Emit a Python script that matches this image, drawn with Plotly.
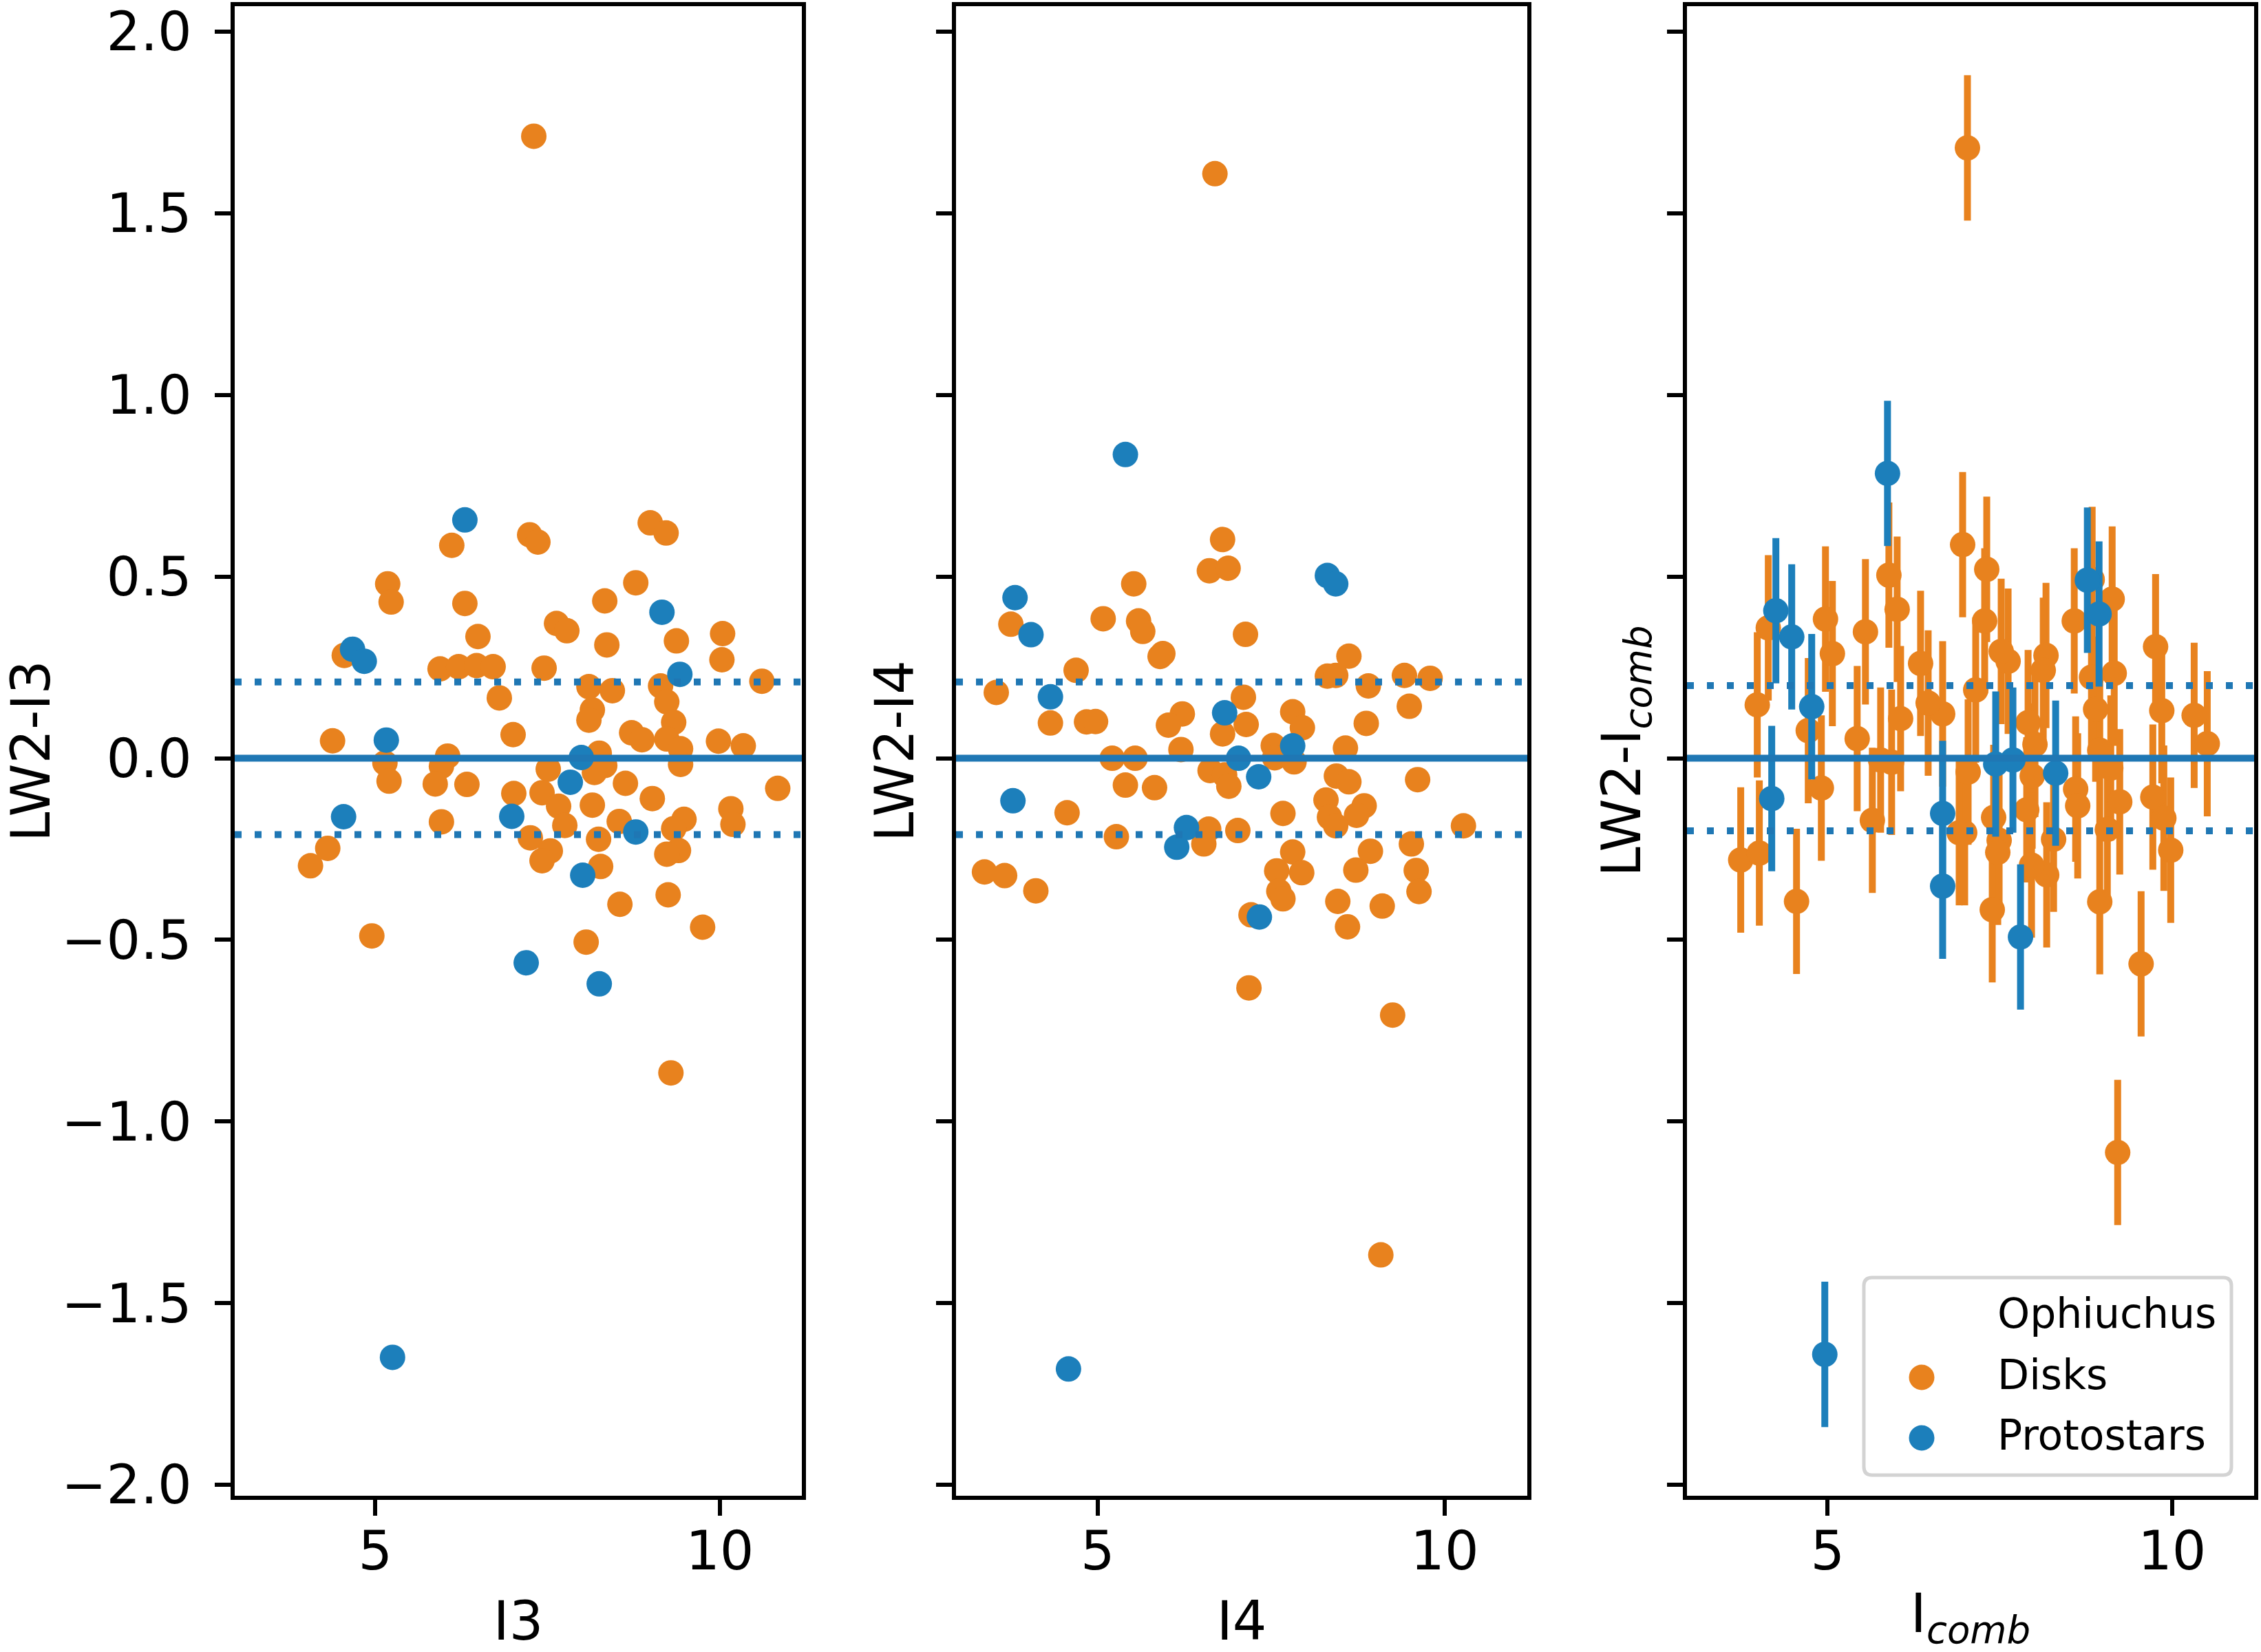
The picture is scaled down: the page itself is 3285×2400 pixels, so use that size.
import plotly.graph_objects as go

# ---------------- data ----------------
# Panel 1: LW2-I3 vs I3
I3_DISK_X = [6.11, 7.24, 7.36, 8.99, 9.22, 5.18, 5.23, 6.30, 8.78, 8.33, 7.63, 7.78, 6.49, 8.36, 9.37, 10.04,
             4.55, 5.94, 6.21, 6.47, 6.71, 7.45, 10.03, 10.61, 8.10, 8.44, 9.14, 6.80, 9.23, 8.15, 8.10, 9.33,
             7.00, 8.72, 8.87, 9.23, 9.43, 9.98, 10.34, 4.38, 8.25, 6.05, 5.14, 5.96, 9.43, 8.33, 7.51, 8.18,
             5.20, 5.87, 6.33, 8.63, 10.84, 7.01, 7.42, 9.02, 7.66, 8.15, 10.16, 10.19, 5.96, 7.75, 8.54, 9.48,
             9.33, 7.25, 8.24, 4.31, 7.54, 7.42, 9.40, 9.23, 4.06, 8.27, 9.25, 8.55, 9.75, 4.95, 8.06, 7.30, 9.29]
I3_DISK_Y = [0.586, 0.615, 0.595, 0.648, 0.620, 0.480, 0.430, 0.426, 0.483, 0.433, 0.371, 0.351, 0.335, 0.312, 0.323, 0.343,
             0.283, 0.246, 0.252, 0.255, 0.252, 0.248, 0.271, 0.212, 0.197, 0.186, 0.199, 0.166, 0.155, 0.133, 0.105, 0.099,
             0.065, 0.070, 0.051, 0.053, 0.026, 0.047, 0.034, 0.048, 0.014, 0.006, -0.013, -0.022, -0.017, -0.020, -0.030, -0.039,
             -0.063, -0.071, -0.072, -0.069, -0.083, -0.097, -0.095, -0.111, -0.132, -0.129, -0.139, -0.182, -0.175, -0.185, -0.174, -0.168,
             -0.194, -0.219, -0.223, -0.248, -0.255, -0.282, -0.254, -0.264, -0.296, -0.298, -0.376, -0.402, -0.465, -0.489, -0.506, 1.712, -0.866]
I3_PROTO_X = [6.30, 9.16, 4.67, 4.84, 9.42, 5.16, 7.99, 7.83, 6.98, 4.54, 8.78, 8.01, 7.19, 8.25, 5.25]
I3_PROTO_Y = [0.656, 0.402, 0.300, 0.267, 0.231, 0.050, 0.002, -0.066, -0.160, -0.161, -0.203, -0.322, -0.563, -0.621, -1.649]

# Panel 2: LW2-I4 vs I4
I4_DISK_X = [6.80, 6.61, 6.88, 5.52, 3.75, 5.08, 5.59, 5.65, 7.13, 5.94, 5.90, 8.62, 4.69, 8.31, 8.43, 9.42,
             9.79, 8.90, 3.54, 7.10, 9.49, 7.81, 6.22, 6.02, 7.14, 8.87, 4.32, 4.84, 4.97, 7.95, 6.80, 7.53,
             6.20, 8.57, 5.21, 5.54, 7.55, 7.83, 6.62, 6.83, 8.44, 8.62, 9.61, 5.40, 5.82, 6.89, 8.29, 4.56,
             7.67, 8.84, 8.34, 8.73, 8.43, 6.60, 7.02, 10.27, 5.27, 6.53, 8.93, 9.52, 7.81, 3.37, 3.66, 7.58,
             7.94, 8.72, 9.59, 4.11, 7.61, 7.67, 9.63, 8.46, 9.10, 7.21, 8.60, 7.18, 6.69, 9.25, 9.08]
I4_DISK_Y = [0.602, 0.516, 0.523, 0.480, 0.369, 0.384, 0.378, 0.349, 0.341, 0.288, 0.280, 0.281, 0.242, 0.226, 0.228, 0.228,
             0.220, 0.199, 0.181, 0.168, 0.143, 0.128, 0.122, 0.091, 0.093, 0.096, 0.097, 0.100, 0.101, 0.084, 0.067, 0.035,
             0.024, 0.028, 0.000, 0.000, 0.001, -0.010, -0.034, -0.046, -0.049, -0.065, -0.059, -0.074, -0.081, -0.077, -0.115, -0.150,
             -0.152, -0.131, -0.162, -0.157, -0.186, -0.195, -0.199, -0.186, -0.216, -0.236, -0.256, -0.236, -0.258, -0.313, -0.323, -0.310,
             -0.315, -0.308, -0.309, -0.365, -0.366, -0.387, -0.367, -0.394, -0.407, -0.431, -0.464, -0.632, 1.609, -0.707, -1.367]
I4_PROTO_X = [5.40, 8.31, 8.43, 3.81, 4.04, 4.32, 6.83, 7.81, 7.03, 7.32, 3.78, 6.28, 6.14, 7.33, 4.58]
I4_PROTO_Y = [0.836, 0.503, 0.480, 0.442, 0.340, 0.169, 0.125, 0.034, 0.000, -0.051, -0.117, -0.191, -0.245, -0.437, -1.681]

# Panel 3: LW2-Icomb vs Icomb (with error bars)
IC_DISK_X = [6.96, 7.31, 5.89, 8.84, 6.01, 4.14, 4.97, 5.07, 5.55, 7.28, 8.58, 9.13, 6.35, 7.62, 8.17, 8.13,
             9.76, 9.16, 8.83, 7.15, 3.98, 6.06, 6.67, 8.89, 9.85, 10.32, 4.72, 5.43, 10.51, 7.91, 8.01, 5.93,
             8.95, 9.11, 7.97, 8.60, 4.91, 9.72, 9.24, 8.63, 5.65, 9.88, 7.41, 6.99, 6.91, 7.49, 8.28, 9.98,
             7.47, 3.74, 4.01, 8.18, 4.55, 7.39, 8.95, 9.55, 7.03, 9.21, 7.89, 7.96, 5.77, 6.46, 7.52, 7.04, 9.06]
IC_DISK_Y = [0.588, 0.520, 0.504, 0.492, 0.410, 0.359, 0.383, 0.288, 0.348, 0.378, 0.378, 0.438, 0.261, 0.267, 0.283, 0.242,
             0.307, 0.234, 0.223, 0.188, 0.147, 0.109, 0.122, 0.135, 0.131, 0.118, 0.076, 0.054, 0.040, 0.098, 0.038, -0.011,
             0.022, -0.027, -0.049, -0.085, -0.082, -0.107, -0.120, -0.131, -0.171, -0.165, -0.163, -0.205, -0.205, -0.226, -0.223, -0.253,
             -0.259, -0.280, -0.261, -0.321, -0.394, -0.417, -0.395, -0.566, 1.680, -1.085, -0.142, -0.294, -0.005, 0.152, 0.294, -0.038, -0.196]
IC_PROTO_X = [5.87, 8.77, 4.25, 4.48, 8.94, 4.77, 7.69, 8.31, 7.44, 4.19, 6.67, 6.67, 7.80, 4.96]
IC_PROTO_Y = [0.784, 0.490, 0.406, 0.334, 0.397, 0.142, -0.005, -0.041, -0.016, -0.111, -0.152, -0.352, -0.492, -1.641]
IC_ERR = 0.20  # symmetric uncertainty on LW2-Icomb

# reference levels
SCATTER_LEVELS = [0.21, 0.21, 0.20]  # dotted +/- lines per panel

X_TITLES = ["I3", "I4", "I<sub><i>comb</i></sub>"]
Y_TITLES = ["LW2-I3", "LW2-I4", "LW2-I<sub><i>comb</i></sub>"]
LEGEND_TITLE = "Ophiuchus"
SERIES_NAMES = ["Disks", "Protostars"]

# ---------------- styling ----------------
ORANGE = "#e8821e"
BLUE_M = "#1c7fbb"
BLUE_L = "#1f77b4"
FONT = "DejaVu Sans"
FS = 78
W, H = 3285, 2400
MS = 37

fig = go.Figure()

panels = [
    (I3_DISK_X, I3_DISK_Y, I3_PROTO_X, I3_PROTO_Y, False),
    (I4_DISK_X, I4_DISK_Y, I4_PROTO_X, I4_PROTO_Y, False),
    (IC_DISK_X, IC_DISK_Y, IC_PROTO_X, IC_PROTO_Y, True),
]

for i, (dx, dy, px_, py_, err) in enumerate(panels):
    xa = "x" if i == 0 else f"x{i+1}"
    ya = "y" if i == 0 else f"y{i+1}"
    ekw = dict(type="constant", value=IC_ERR, thickness=10, width=0) if err else None
    fig.add_trace(go.Scatter(x=dx, y=dy, mode="markers", name=SERIES_NAMES[0],
                             marker=dict(color=ORANGE, size=MS, line=dict(width=0)),
                             error_y=dict(ekw, color=ORANGE) if err else None,
                             xaxis=xa, yaxis=ya, showlegend=False))
    fig.add_trace(go.Scatter(x=px_, y=py_, mode="markers", name=SERIES_NAMES[1],
                             marker=dict(color=BLUE_M, size=MS, line=dict(width=0)),
                             error_y=dict(ekw, color=BLUE_M) if err else None,
                             xaxis=xa, yaxis=ya, showlegend=False))
    # horizontal reference lines
    for yv, dash in [(0.0, "solid"), (SCATTER_LEVELS[i], "10px,19px"), (-SCATTER_LEVELS[i], "10px,19px")]:
        fig.add_shape(type="line", xref=f"{xa} domain", yref=ya, x0=0, x1=1, y0=yv, y1=yv,
                      line=dict(color=BLUE_L, width=10, dash=dash), layer="above")

# panel geometry (pixels)
xdoms = [(341, 1165), (1389, 2219), (2451, 3275)]
ydom = [(2400 - 2173) / H, (2400 - 9) / H]
ytitle_standoff = [25, 9, 15]

axis_common = dict(showline=True, mirror=True, linecolor="black", linewidth=5.5,
                   ticks="outside", ticklen=23, tickwidth=5.5, tickcolor="black",
                   showgrid=False, zeroline=False, automargin=False,
                   tickfont=dict(family=FONT, size=FS, color="black"))

layout = dict(width=W, height=H, margin=dict(l=0, r=0, t=0, b=0, pad=0),
              paper_bgcolor="white", plot_bgcolor="white",
              font=dict(family=FONT, size=FS, color="black"), showlegend=False)

for i in range(3):
    xk = "xaxis" if i == 0 else f"xaxis{i+1}"
    yk = "yaxis" if i == 0 else f"yaxis{i+1}"
    layout[xk] = dict(axis_common, domain=[xdoms[i][0] / W, xdoms[i][1] / W],
                      range=[2.96, 11.19], tickvals=[5, 10], ticklabelstandoff=-15,
                      anchor="y" if i == 0 else f"y{i+1}",
                      title=dict(text=X_TITLES[i], font=dict(family=FONT, size=FS), standoff=59))
    layout[yk] = dict(axis_common, domain=ydom, range=[-2.03, 2.07],
                      tickvals=[-2.0, -1.5, -1.0, -0.5, 0.0, 0.5, 1.0, 1.5, 2.0],
                      tickformat=".1f", showticklabels=(i == 0), ticklabelstandoff=18,
                      anchor="x" if i == 0 else f"x{i+1}",
                      title=dict(text=Y_TITLES[i], font=dict(family=FONT, size=FS),
                                 standoff=ytitle_standoff[i]))

fig.update_layout(**layout)

# ---------------- manual legend (matches the matplotlib look) ----------------
lx0, lx1, ly0, ly1 = 2708, 3242, 1856, 2143  # pixels
r = 12
def px(xp):
    return xp / W
def py(yp):
    return 1 - yp / H
path = (f"M {px(lx0 + r)},{py(ly0)} L {px(lx1 - r)},{py(ly0)} Q {px(lx1)},{py(ly0)} {px(lx1)},{py(ly0 + r)} "
        f"L {px(lx1)},{py(ly1 - r)} Q {px(lx1)},{py(ly1)} {px(lx1 - r)},{py(ly1)} "
        f"L {px(lx0 + r)},{py(ly1)} Q {px(lx0)},{py(ly1)} {px(lx0)},{py(ly1 - r)} "
        f"L {px(lx0)},{py(ly0 + r)} Q {px(lx0)},{py(ly0)} {px(lx0 + r)},{py(ly0)} Z")
fig.add_shape(type="path", xref="paper", yref="paper", path=path,
              fillcolor="rgba(255,255,255,0.8)", line=dict(color="#d3d3d3", width=5), layer="above")

rows = [(LEGEND_TITLE, None, 1912), (SERIES_NAMES[0], ORANGE, 2001), (SERIES_NAMES[1], BLUE_M, 2089)]
for label, col, yc in rows:
    if col is not None:
        fig.add_shape(type="circle", xref="paper", yref="paper",
                      x0=px(2792 - MS / 2), x1=px(2792 + MS / 2), y0=py(yc + MS / 2), y1=py(yc - MS / 2),
                      fillcolor=col, line=dict(width=0), layer="above")
    fig.add_annotation(x=px(2900), y=py(yc - 4), xref="paper", yref="paper", text=label,
                       showarrow=False, xanchor="left", yanchor="middle",
                       font=dict(family=FONT, size=60, color="black"))

fig.write_html("out.html")
